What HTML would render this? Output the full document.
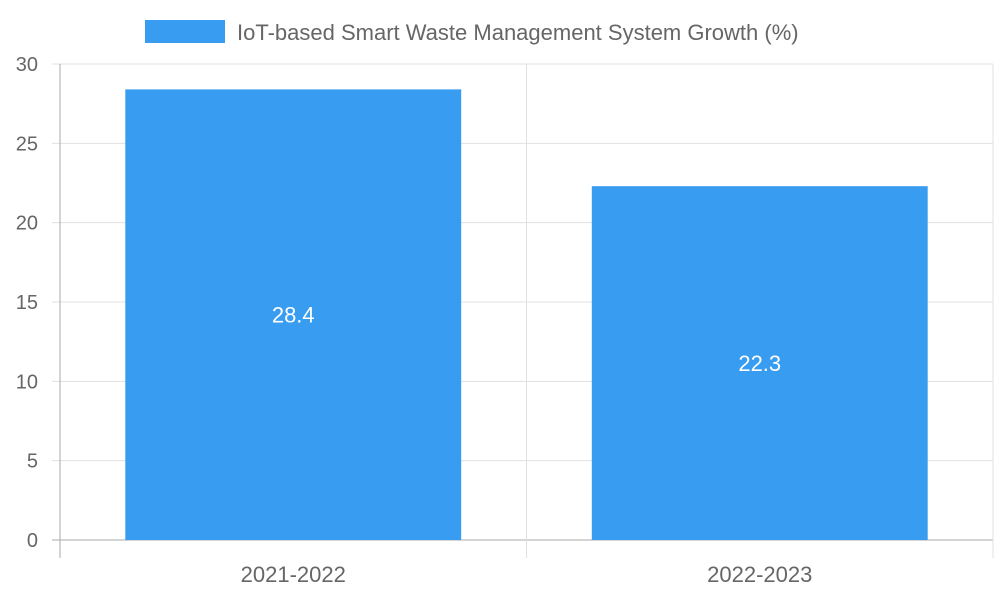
<!DOCTYPE html>
<html><head><meta charset="utf-8"><style>
body{margin:0;background:#fff}
svg text{font-family:"Liberation Sans",sans-serif}
</style></head><body>
<svg id="chart" width="1000" height="600">
<rect x="145" y="20" width="80" height="23" fill="#389cf0"/>
<text x="237" y="40" font-size="22" fill="#666">IoT-based Smart Waste Management System Growth (%)</text>
<g id="grid"></g><g id="bars"></g><g id="labels"></g>
</svg>
<script>
const categories=["2021-2022","2022-2023"];
const values=[28.4,22.3];
const yTicks=[0,5,10,15,20,25,30];
const L=60,R=993,T=64,B=540,yMax=30;
const y=v=>B-(v/yMax)*(B-T);
const bw=(R-L)/categories.length;
const x=i=>L+bw*i;
const NS="http://www.w3.org/2000/svg";
function mk(p,t,a){const e=document.createElementNS(NS,t);for(const k in a)e.setAttribute(k,a[k]);p.appendChild(e);return e;}
const g=document.getElementById('grid'),bg=document.getElementById('bars'),lg=document.getElementById('labels');
yTicks.forEach(v=>{
 const l=mk(g,'line',{x1:L-8,x2:R,y1:y(v),y2:y(v),stroke:v===0?'#aaa':'#e0e0e0','stroke-width':1});
 
 
 const t=mk(g,'text',{x:38,y:y(v)+7,'text-anchor':'end','font-size':20,fill:'#666'});t.textContent=v;
 
 
});
for(let i=0;i<=categories.length;i++){
 const l=mk(g,'line',{x1:x(i),x2:x(i),y1:T,y2:B+18,stroke:i===0?'#aaa':'#e0e0e0','stroke-width':1});
 
 
}
categories.forEach((c,i)=>{
 const w=bw*0.72,cx=x(i)+bw/2;
 const r=mk(bg,'rect',{x:cx-w/2,y:y(values[i]),width:w,height:B-y(values[i]),fill:'#389cf0'});
 
 
 const v=mk(lg,'text',{x:cx,y:(y(values[i])+B)/2+8,'text-anchor':'middle','font-size':22,fill:'#fff'});v.textContent=values[i];
 
 
 const t=mk(lg,'text',{x:cx,y:582,'text-anchor':'middle','font-size':22,fill:'#666'});t.textContent=c;
 
 
});
</script>
</body></html>
